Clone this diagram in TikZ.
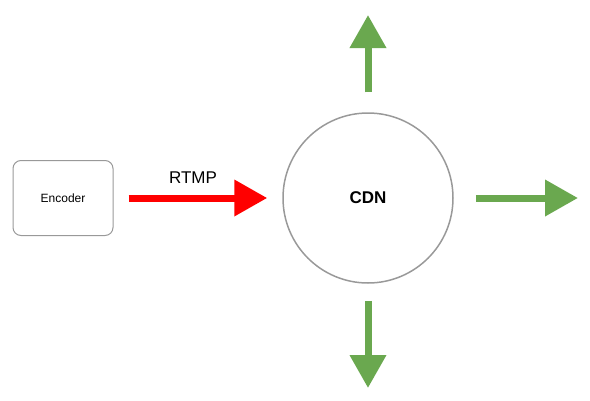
\documentclass[tikz,border=0pt]{standalone}
\usepackage{fontspec}
\setmainfont{Liberation Sans}
\usetikzlibrary{arrows.meta,positioning}
\definecolor{cdngreen}{RGB}{106,168,79}
\definecolor{edgegray}{RGB}{153,153,153}

\begin{document}
\begin{tikzpicture}[
		x=1pt, y=-1pt,
		arrow/.style={line width=7pt, -{Triangle[length=33pt, width=35pt]}},
		block/.style={draw=edgegray, line width=1pt, rounded corners=8pt, minimum width=100pt, minimum height=75pt, align=center, font=\fontsize{12}{14}\selectfont},
		hub/.style={draw=edgegray, line width=1.5pt, circle, minimum size=170pt, inner sep=0pt, font=\fontsize{17}{20}\selectfont\bfseries},
	]
		\useasboundingbox (0,0) rectangle (590,400);

		\node (enc) at (63,198) [block] {Encoder};
		\node (cdn) at (368,198) [hub] {CDN};
		\node (rtmp) at (193,178) [font=\fontsize{17}{20}\selectfont] {RTMP};

		\coordinate (up) at (368,15);
		\coordinate (right) at (578,198);
		\coordinate (down) at (368,388);

		\draw[arrow, red, shorten <=15pt, shorten >=15pt] (enc.east) -- (cdn.west);

		\draw[arrow, cdngreen, shorten <=20pt] (cdn.north) -- (up);
		\draw[arrow, cdngreen, shorten <=22pt] (cdn.east) -- (right);
		\draw[arrow, cdngreen, shorten <=17pt] (cdn.south) -- (down);
	\end{tikzpicture}
\end{document}
